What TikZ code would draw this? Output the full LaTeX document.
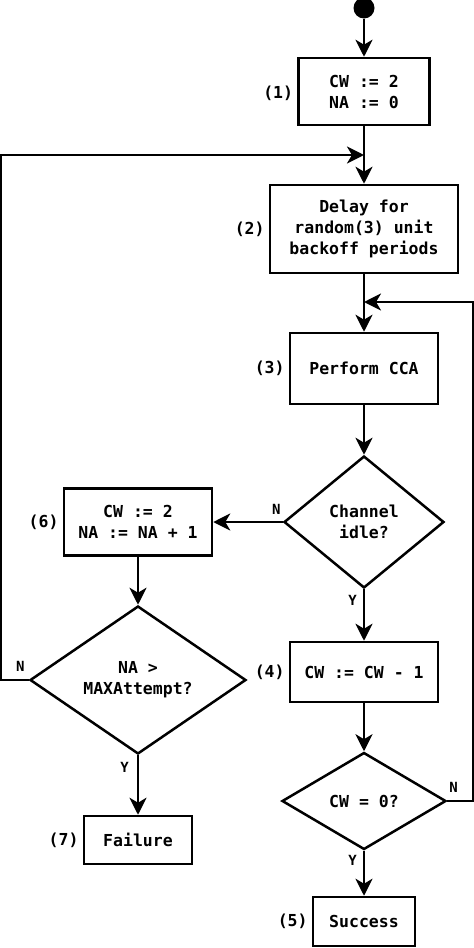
\documentclass[tikz,border=0pt]{standalone}
\usepackage{fontspec}
\setmainfont{DejaVu Sans Mono}
\usetikzlibrary{shapes.geometric,arrows.meta}
\begin{document}
\begin{tikzpicture}[x=1pt,y=-1pt,
  every node/.style={font=\fontsize{16.5}{21}\selectfont\bfseries, inner sep=0pt},
  box/.style={draw, line width=2.5pt, align=center},
  dia/.style={draw, diamond, line width=2.5pt, align=center, aspect=1.2},
  arr/.style={line width=2.8pt, -{Stealth[length=17pt,width=17pt,inset=5pt]}},
  tag/.style={anchor=east},
  yn/.style={font=\fontsize{14}{16}\selectfont\bfseries}]
\useasboundingbox (0,0) rectangle (474,948);

\node[circle, fill, minimum size=21pt] (s) at (364,8) {};
\node[box, minimum width=131pt, minimum height=67pt] (b1) at (364,91.5) {CW := 2\\NA := 0};
\node[box, minimum width=188pt, minimum height=88pt] (b2) at (364,229) {Delay for\\random(3) unit\\backoff periods};
\node[box, minimum width=148pt, minimum height=71pt] (b3) at (364,368.5) {Perform CCA};
\node[dia, minimum width=160pt, minimum height=132pt] (d1) at (364,522) {Channel\\idle?};
\node[box, minimum width=148pt, minimum height=67pt] (b6) at (138,522) {CW := 2\\NA := NA + 1};
\node[dia, minimum width=216pt, minimum height=148pt] (d2) at (138,680) {NA >\\MAXAttempt?};
\node[box, minimum width=108pt, minimum height=48pt] (b7) at (138,840) {Failure};
\node[box, minimum width=148pt, minimum height=60pt] (b4) at (364,672) {CW := CW - 1};
\node[dia, minimum width=164pt, minimum height=97pt] (d3) at (364,801) {CW = 0?};
\node[box, minimum width=102pt, minimum height=49pt] (b5) at (364,921.5) {Success};

\node[tag] (t1) at ([xshift=-4pt,yshift=-1.5pt]b1.west) {(1)};
\node[tag] (t2) at ([xshift=-4pt]b2.west) {(2)};
\node[tag] (t3) at ([xshift=-4pt]b3.west) {(3)};
\node[tag] (t4) at ([xshift=-4pt]b4.west) {(4)};
\node[tag] (t5) at ([xshift=-4pt]b5.west) {(5)};
\node[tag] (t6) at ([xshift=-4pt]b6.west) {(6)};
\node[tag] (t7) at ([xshift=-4pt]b7.west) {(7)};

\coordinate (j1) at (364,155);
\coordinate (j2) at (364,302);

\draw[arr] (s) -- (b1);
\draw[arr] (b1) -- (b2);
\draw[arr] (d2.west) -- ++(-28,0) |- (j1);
\draw[arr] (b2) -- (b3);
\draw[arr] (d3.east) -- ++(26,0) |- (j2);
\draw[arr] (b3) -- (d1);
\draw[arr] (d1.west) -- (b6.east);
\draw[arr] (b6) -- (d2);
\draw[arr] (d2.south) -- (b7.north);
\draw[arr] (d1) -- (b4);
\draw[arr] (b4) -- (d3);
\draw[arr] (d3) -- (b5);

\node[yn, anchor=south east] (n1) at ([xshift=-2pt,yshift=7pt]d1.west) {N};
\node[yn, anchor=south east] (n2) at ([xshift=-4pt,yshift=8pt]d2.west) {N};
\node[yn, anchor=south west] (n3) at ([xshift=2pt,yshift=8pt]d3.east) {N};
\node[yn, anchor=north east] (y1) at ([xshift=-7pt,yshift=-6pt]d1.south) {Y};
\node[yn, anchor=north east] (y2) at ([xshift=-9pt,yshift=-7pt]d2.south) {Y};
\node[yn, anchor=north east] (y3) at ([xshift=-7pt,yshift=-4pt]d3.south) {Y};
\end{tikzpicture}
\end{document}
